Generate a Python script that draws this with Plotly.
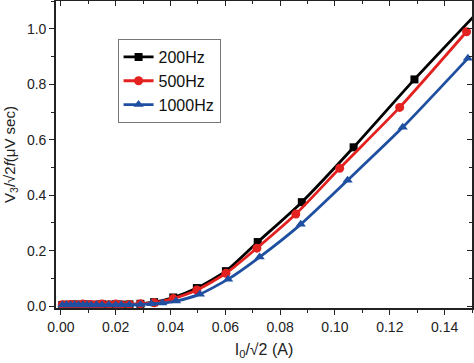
import plotly.graph_objects as go

# ---- data ----
x_200 = [0.0005, 0.002, 0.0035, 0.005, 0.0065, 0.008, 0.0095, 0.011, 0.013, 0.015, 0.0175,
         0.020, 0.022, 0.025, 0.029, 0.034, 0.041, 0.0496, 0.0602, 0.0718, 0.0879, 0.1068, 0.129, 0.153]
y_200 = [0.004, 0.005, 0.004, 0.006, 0.004, 0.005, 0.006, 0.004, 0.005, 0.006, 0.005,
         0.006, 0.005, 0.006, 0.008, 0.014, 0.031, 0.065, 0.126, 0.231, 0.375, 0.573, 0.818, 1.07]

x_500 = [0.0005, 0.002, 0.0035, 0.005, 0.0065, 0.008, 0.0095, 0.011, 0.013, 0.015, 0.0175,
         0.020, 0.022, 0.025, 0.029, 0.034, 0.041, 0.0496, 0.0602, 0.0715, 0.0857, 0.1017, 0.1236, 0.148]
y_500 = [0.005, 0.004, 0.006, 0.004, 0.005, 0.007, 0.004, 0.006, 0.005, 0.007, 0.005,
         0.007, 0.005, 0.006, 0.008, 0.012, 0.027, 0.058, 0.118, 0.209, 0.332, 0.497, 0.717, 0.99]

x_1000 = [0.0005, 0.002, 0.0035, 0.005, 0.0065, 0.008, 0.0095, 0.011, 0.013, 0.015, 0.0175,
          0.020, 0.022, 0.025, 0.029, 0.033, 0.037, 0.042, 0.0507, 0.061, 0.0725, 0.0875, 0.1046, 0.1247, 0.1485]
y_1000 = [0.004, 0.005, 0.004, 0.005, 0.004, 0.005, 0.004, 0.004, 0.005, 0.004, 0.005,
          0.004, 0.005, 0.005, 0.006, 0.008, 0.011, 0.018, 0.043, 0.097, 0.177, 0.295, 0.454, 0.645, 0.894]

series_names = ["200Hz", "500Hz", "1000Hz"]
x_tick_vals = [0.00, 0.02, 0.04, 0.06, 0.08, 0.10, 0.12, 0.14]
y_tick_vals = [0.0, 0.2, 0.4, 0.6, 0.8, 1.0]

colors = ["#000000", "#e3211f", "#1f4fa0"]
symbols = ["square", "circle", "triangle-up"]
msizes = [8, 9, 9]

fig = go.Figure()
for name, xs, ys, c, s, ms in zip(series_names, [x_200, x_500, x_1000], [y_200, y_500, y_1000],
                                  colors, symbols, msizes):
    fig.add_trace(go.Scatter(x=xs, y=ys, name=name, mode="lines+markers",
                             line=dict(color=c, width=2.8, shape="spline", smoothing=0.6),
                             marker=dict(color=c, symbol=s, size=ms)))

# dummy trace for mirrored inside-tick axes
fig.add_trace(go.Scatter(x=[None], y=[None], xaxis="x2", yaxis="y2", showlegend=False, hoverinfo="skip"))

XR = [-0.0018, 0.15]
YR = [-0.007, 1.101]
axcol = "#222222"
tickfont = dict(family="Liberation Sans, Arial, sans-serif", size=14, color="#222")
titlefont = dict(family="Liberation Sans, Arial, sans-serif", size=16, color="#222")

fig.update_layout(
    width=474, height=363,
    margin=dict(l=56, r=2, t=1, b=55),
    paper_bgcolor="white", plot_bgcolor="white",
    font=dict(family="Liberation Sans, Arial, sans-serif", color="#222"),
    xaxis=dict(range=XR, tickvals=x_tick_vals, tickformat=".2f", ticks="outside", ticklen=5,
               tickwidth=1.2, tickcolor=axcol, showline=True, linecolor=axcol, linewidth=1.6,
               showgrid=False, zeroline=False, tickfont=tickfont, automargin=False,
               minor=dict(ticks="outside", ticklen=3, tickwidth=1.2, tickcolor=axcol, dtick=0.01, tick0=0),
               title=dict(text="I<sub>0</sub>/√2 (A)", font=titlefont, standoff=10)),
    yaxis=dict(range=YR, tickvals=y_tick_vals, tickformat=".1f", ticks="outside", ticklen=5,
               tickwidth=1.2, tickcolor=axcol, showline=True, linecolor=axcol, linewidth=1.6,
               showgrid=False, zeroline=False, tickfont=tickfont, automargin=False,
               minor=dict(ticks="outside", ticklen=3, tickwidth=1.2, tickcolor=axcol, dtick=0.1, tick0=0),
               title=dict(text="V<sub>3</sub>/√2<i>f</i>(μV sec)", font=dict(family="Liberation Sans, Arial, sans-serif", size=15, color="#222"), standoff=8)),
    xaxis2=dict(overlaying="x", side="top", matches="x", range=XR, tickvals=x_tick_vals,
                ticks="inside", ticklen=5, tickwidth=1.2, tickcolor=axcol, showticklabels=False,
                showline=True, linecolor=axcol, linewidth=1.6, showgrid=False, zeroline=False,
                automargin=False,
                minor=dict(ticks="inside", ticklen=3, tickwidth=1.2, tickcolor=axcol, dtick=0.01, tick0=0)),
    yaxis2=dict(overlaying="y", side="right", matches="y", range=YR, tickvals=y_tick_vals,
                ticks="inside", ticklen=5, tickwidth=1.2, tickcolor=axcol, showticklabels=False,
                showline=True, linecolor=axcol, linewidth=1.6, showgrid=False, zeroline=False,
                automargin=False,
                minor=dict(ticks="inside", ticklen=3, tickwidth=1.2, tickcolor=axcol, dtick=0.1, tick0=0)),
    legend=dict(x=0.148, y=0.876, xanchor="left", yanchor="top", bordercolor="#777", borderwidth=1,
                bgcolor="white", font=dict(size=16, color="#111"), tracegroupgap=0),
    showlegend=True,
)

fig.write_html("out.html", config={"displayModeBar": False},
               post_script="document.body.style.margin='0';document.body.style.overflow='hidden';")
